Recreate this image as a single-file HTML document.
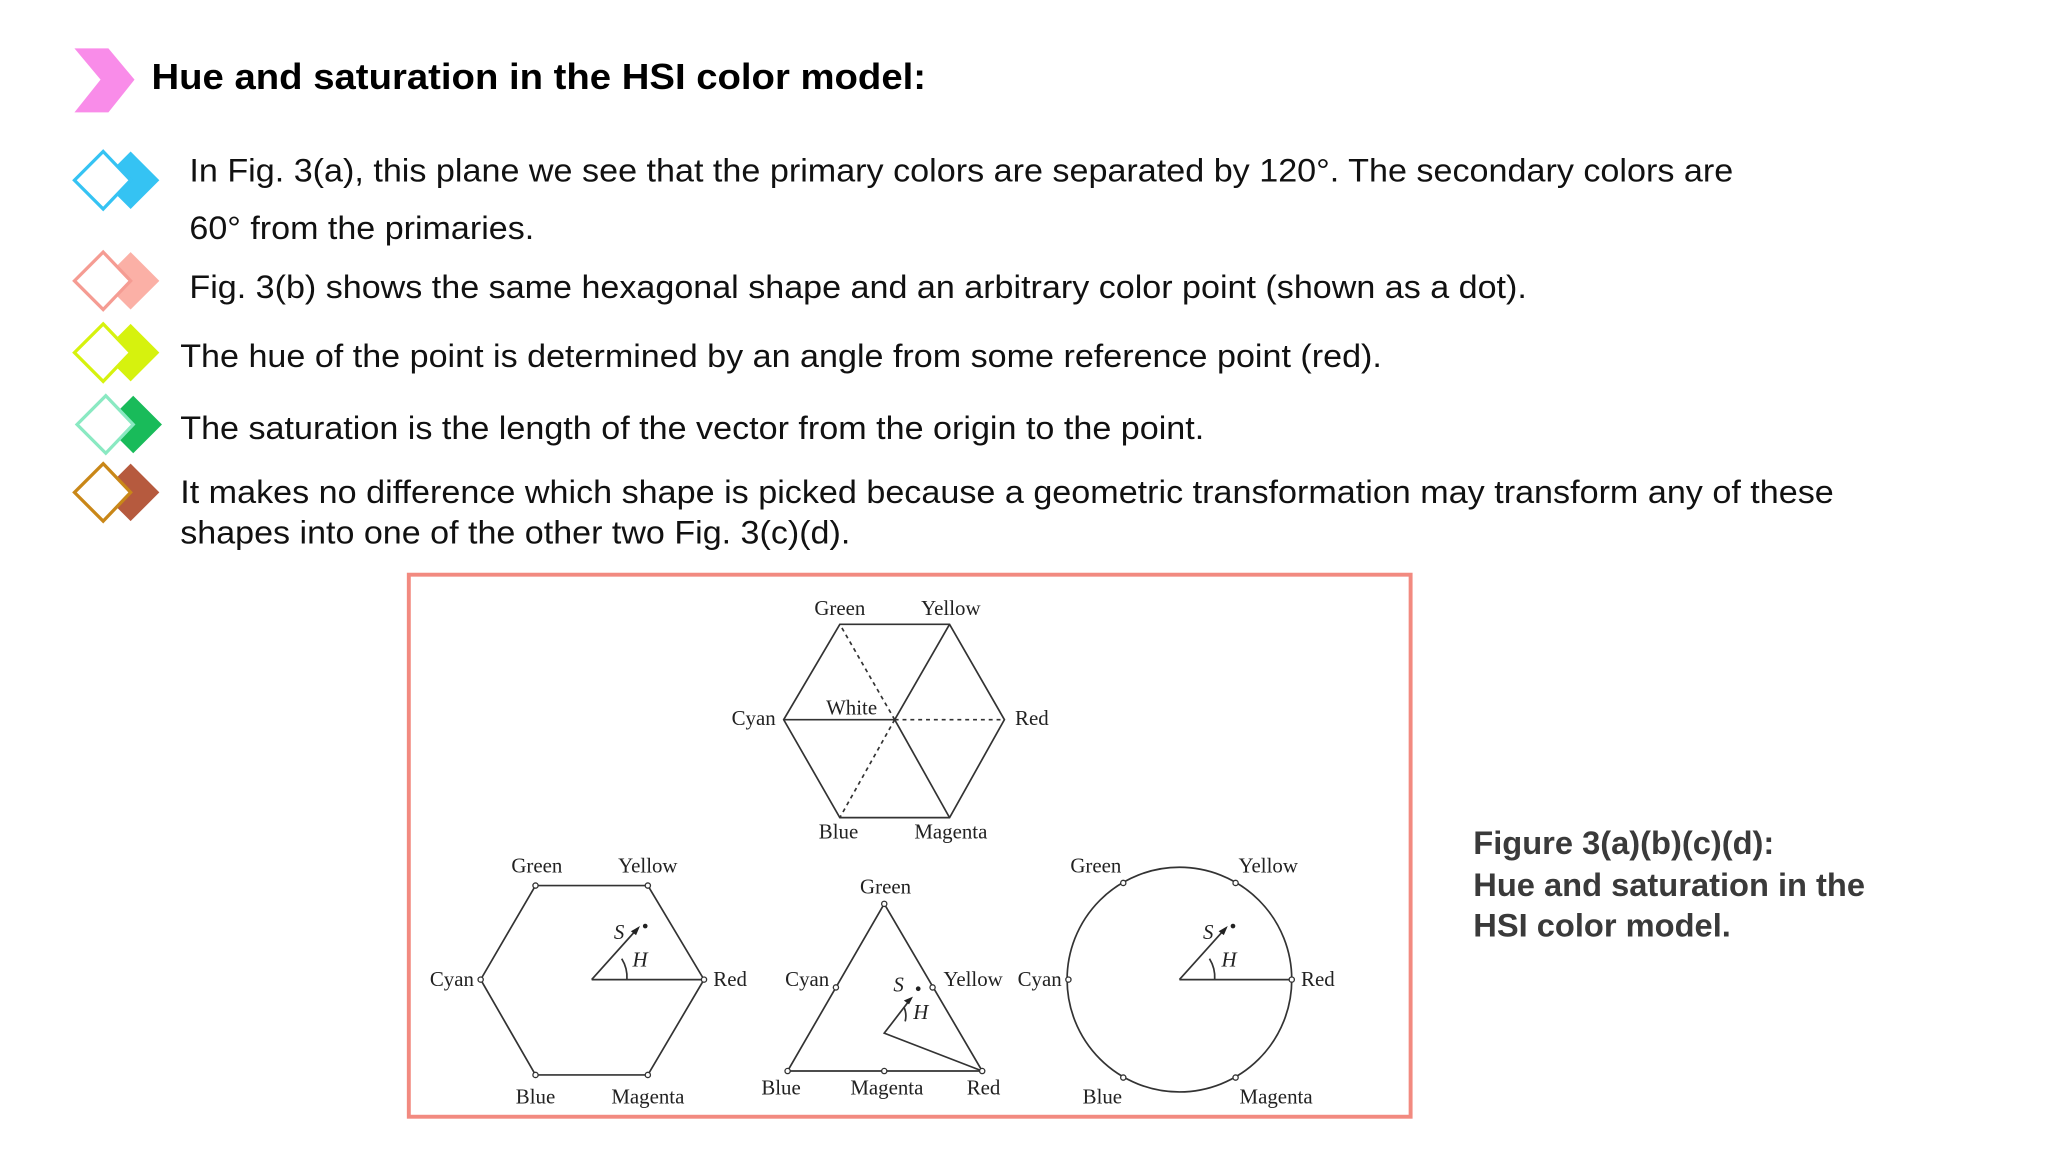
<!DOCTYPE html>
<html><head><meta charset="utf-8"><style>
html,body{margin:0;padding:0;background:#fff;}
svg{display:block;}
.t{font-family:"Liberation Sans",sans-serif;font-size:24.5px;fill:#111;}
.s{font-family:"Liberation Serif",serif;font-size:16px;fill:#222;}
.i{font-family:"Liberation Serif",serif;font-size:16px;font-style:italic;fill:#222;}
.c{font-family:"Liberation Sans",sans-serif;font-size:25px;font-weight:bold;fill:#3a3a3a;}
</style></head><body>
<svg width="2048" height="1152" viewBox="0 0 1568 882" xmlns="http://www.w3.org/2000/svg">
<rect width="1568" height="882" fill="#fff"/>
<polygon points="57,37 83,37 103,61 83,86 57,86 77,61" fill="#f98ce9"/>
<text x="116" y="68" font-family="Liberation Sans, sans-serif" font-weight="bold" font-size="28" fill="#000" textLength="593" lengthAdjust="spacingAndGlyphs">Hue and saturation in the HSI color model:</text>

<g stroke-width="2.5">
<polygon points="100,116 122,138 100,160 78,138" fill="#35c3f3"/>
<polygon points="79,116 100,138 79,160 57,138" fill="#fff" stroke="#35c3f3"/>
<polygon points="100,193 122,215 100,237 78,215" fill="#fbb0a6"/>
<polygon points="79,193 100,215 79,237 57,215" fill="#fff" stroke="#f59c93"/>
<polygon points="100,248 122,270 100,292 78,270" fill="#d6f20e"/>
<polygon points="79,248 100,270 79,292 57,270" fill="#fff" stroke="#d6f20e"/>
<polygon points="102,303 124,325 102,347 80,325" fill="#19bb5a"/>
<polygon points="81,303 102,325 81,347 59,325" fill="#fff" stroke="#8ae9c2"/>
<polygon points="100,355 122,377 100,399 78,377" fill="#b65a3e"/>
<polygon points="79,355 100,377 79,399 57,377" fill="#fff" stroke="#c98718"/>
</g>

<text class="t" x="145" y="139" textLength="1182" lengthAdjust="spacingAndGlyphs">In Fig. 3(a), this plane we see that the primary colors are separated by 120°. The secondary colors are</text>
<text class="t" x="145" y="183" textLength="264" lengthAdjust="spacingAndGlyphs">60° from the primaries.</text>
<text class="t" x="145" y="228" textLength="1024" lengthAdjust="spacingAndGlyphs">Fig. 3(b) shows the same hexagonal shape and an arbitrary color point (shown as a dot).</text>
<text class="t" x="138" y="281" textLength="920" lengthAdjust="spacingAndGlyphs">The hue of the point is determined by an angle from some reference point (red).</text>
<text class="t" x="138" y="336" textLength="784" lengthAdjust="spacingAndGlyphs">The saturation is the length of the vector from the origin to the point.</text>
<text class="t" x="138" y="385" textLength="1266" lengthAdjust="spacingAndGlyphs">It makes no difference which shape is picked because a geometric transformation may transform any of these</text>
<text class="t" x="138" y="416" textLength="513" lengthAdjust="spacingAndGlyphs">shapes into one of the other two Fig. 3(c)(d).</text>

<rect x="313" y="440" width="767" height="415" fill="#fff" stroke="#f28a80" stroke-width="3"/>

<g stroke="#333" stroke-width="1.3" fill="none">
<!-- a -->
<polygon points="643,478 727,478 769,551 727,626 643,626 600,551"/>
<line x1="600" y1="551" x2="685" y2="551"/>
<line x1="685" y1="551" x2="727" y2="478"/>
<line x1="685" y1="551" x2="727" y2="626"/>
<g stroke-dasharray="3,3"><line x1="685" y1="551" x2="643" y2="478"/><line x1="685" y1="551" x2="643" y2="626"/><line x1="685" y1="551" x2="769" y2="551"/></g>
<!-- b hex -->
<polygon points="410,678 496,678 539,750 496,823 410,823 368,750"/>
<line x1="453" y1="750" x2="539" y2="750"/>
<line x1="453" y1="750" x2="488" y2="711"/>
<path d="M480,750 A27,27 0 0 0 476,734"/>
<!-- triangle -->
<polygon points="677,692 603,820 752,820"/>
<polyline points="752,820 677,791 697,765"/>
<path d="M693,782 A16,16 0 0 0 692,771"/>
<!-- circle -->
<circle cx="903" cy="750" r="86"/>
<line x1="903" y1="750" x2="989" y2="750"/>
<line x1="903" y1="750" x2="938" y2="711"/>
<path d="M930,750 A27,27 0 0 0 926,734"/>
</g>
<g fill="#fff" stroke="#333" stroke-width="1">
<circle cx="410" cy="678" r="2"/><circle cx="496" cy="678" r="2"/><circle cx="539" cy="750" r="2"/><circle cx="496" cy="823" r="2"/><circle cx="410" cy="823" r="2"/><circle cx="368" cy="750" r="2"/>
<circle cx="677" cy="692" r="2"/><circle cx="603" cy="820" r="2"/><circle cx="752" cy="820" r="2"/><circle cx="640" cy="756" r="2"/><circle cx="714" cy="756" r="2"/><circle cx="677" cy="820" r="2"/>
<circle cx="989" cy="750" r="2"/><circle cx="818" cy="750" r="2"/><circle cx="860" cy="676" r="2"/><circle cx="946" cy="676" r="2"/><circle cx="860" cy="825" r="2"/><circle cx="946" cy="825" r="2"/>
</g>
<g fill="#222">
<polygon points="490,709 483,713 487,716"/><circle cx="494" cy="709" r="1.8"/>
<polygon points="699,763 692,766 696,769"/><circle cx="703" cy="757" r="1.8"/>
<polygon points="940,709 933,713 937,716"/><circle cx="944" cy="709" r="1.8"/>
</g>

<g class="s" text-anchor="middle">
<text x="643" y="471">Green</text><text x="728" y="471">Yellow</text>
<text x="577" y="555">Cyan</text><text x="790" y="555">Red</text>
<text x="652" y="547">White</text>
<text x="642" y="642">Blue</text><text x="728" y="642">Magenta</text>
<text x="411" y="668">Green</text><text x="496" y="668">Yellow</text>
<text x="346" y="755">Cyan</text><text x="559" y="755">Red</text>
<text x="410" y="845">Blue</text><text x="496" y="845">Magenta</text>
<text x="678" y="684">Green</text><text x="618" y="755">Cyan</text><text x="745" y="755">Yellow</text>
<text x="598" y="838">Blue</text><text x="679" y="838">Magenta</text><text x="753" y="838">Red</text>
<text x="839" y="668">Green</text><text x="971" y="668">Yellow</text>
<text x="796" y="755">Cyan</text><text x="1009" y="755">Red</text>
<text x="844" y="845">Blue</text><text x="977" y="845">Magenta</text>
</g>
<g class="i" text-anchor="middle">
<text x="474" y="719">S</text><text x="490" y="740">H</text>
<text x="688" y="759">S</text><text x="705" y="780">H</text>
<text x="925" y="719">S</text><text x="941" y="740">H</text>
</g>

<text class="c" x="1128" y="654">Figure 3(a)(b)(c)(d):</text>
<text class="c" x="1128" y="686">Hue and saturation in the</text>
<text class="c" x="1128" y="717">HSI color model.</text>
</svg>
</body></html>
